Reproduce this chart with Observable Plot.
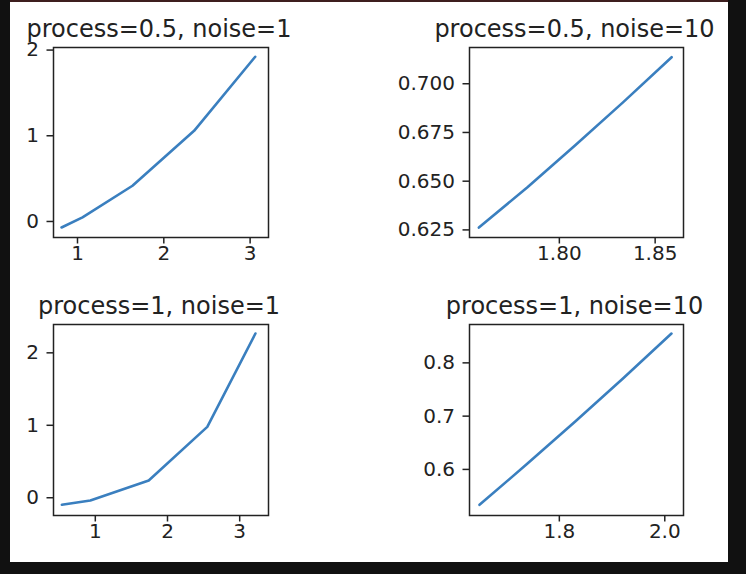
<!DOCTYPE html>
<html>
<head>
<meta charset="utf-8">
<script src="https://cdn.jsdelivr.net/npm/d3@7"></script>
<script src="https://cdn.jsdelivr.net/npm/@observablehq/plot@0.6"></script>
<style>
  html, body { margin: 0; padding: 0; background: #111111; }
  #page { position: relative; width: 746px; height: 574px; background: #111111; overflow: hidden; }
  #band { position: absolute; left: 10px; top: 0; width: 718px; height: 2px; background: #3d1e1e; }
  #sheet { position: absolute; left: 10px; top: 2px; width: 718px; height: 560px; background: #ffffff; }
  .panel { position: absolute; }
</style>
</head>
<body>
<div id="page"><div id="band"></div><div id="sheet"></div></div>
<script>
// ---- data ----
const titles = ["process=0.5, noise=1", "process=0.5, noise=10", "process=1, noise=1", "process=1, noise=10"];

const p1x = [0.815, 1.058, 1.637, 2.351, 3.059];
const p1y = [-0.070, 0.047, 0.417, 1.058, 1.922];

const p2x = [1.758, 1.7832, 1.8083, 1.8335, 1.8586];
const p2y = [0.6262, 0.6468, 0.6684, 0.6907, 0.7136];

const p3x = [0.537, 0.931, 1.740, 2.551, 3.218];
const p3y = [-0.097, -0.037, 0.239, 0.978, 2.267];

const p4x = [1.6486, 1.7396, 1.8307, 1.9217, 2.0127];
const p4y = [0.5336, 0.6109, 0.6903, 0.7717, 0.855];

const p1xTicks = [1, 2, 3], p1yTicks = [0, 1, 2];
const p2xTicks = [1.80, 1.85], p2yTicks = [0.625, 0.650, 0.675, 0.700];
const p3xTicks = [1, 2, 3], p3yTicks = [0, 1, 2];
const p4xTicks = [1.8, 2.0], p4yTicks = [0.6, 0.7, 0.8];

// ---- layout ----
const panels = [
  {title: titles[0], xs: p1x, ys: p1y, xDom: [0.722, 3.213], yDom: [-0.187, 2.030], xt: p1xTicks, yt: p1yTicks, xf: "d", yf: "d",
   region: [10, 2, 369, 282], box: [53, 47, 268, 237]},
  {title: titles[1], xs: p2x, ys: p2y, xDom: [1.7531, 1.8648], yDom: [0.6211, 0.7186], xt: p2xTicks, yt: p2yTicks, xf: ".2f", yf: ".3f",
   region: [369, 2, 728, 282], box: [469, 47, 683, 237]},
  {title: titles[2], xs: p3x, ys: p3y, xDom: [0.421, 3.399], yDom: [-0.245, 2.391], xt: p3xTicks, yt: p3yTicks, xf: "d", yf: "d",
   region: [10, 282, 369, 562], box: [53, 324, 268, 515]},
  {title: titles[3], xs: p4x, ys: p4y, xDom: [1.6296, 2.0355], yDom: [0.5135, 0.872], xt: p4xTicks, yt: p4yTicks, xf: ".1f", yf: ".1f",
   region: [369, 282, 728, 562], box: [469, 324, 683, 515]}
];

const ink = "#222222";
const lineColor = "#3a7fbf";
const page = document.getElementById("page");

for (const p of panels) {
  const [rx0, ry0, rx1, ry1] = p.region;
  const [bl, bt, br, bb] = p.box;
  const data = p.xs.map((x, i) => ({x, y: p.ys[i]}));
  const chart = Plot.plot({
    width: rx1 - rx0,
    height: ry1 - ry0,
    marginLeft: bl - rx0,
    marginTop: bt - ry0,
    marginRight: rx1 - br,
    marginBottom: ry1 - bb,
    style: {fontFamily: "'DejaVu Sans', sans-serif", fontSize: "20px", color: ink, background: "transparent", overflow: "visible"},
    x: {domain: p.xDom},
    y: {domain: p.yDom},
    marks: [
      Plot.line(data, {x: "x", y: "y", stroke: lineColor, strokeWidth: 2.6, curve: "linear"}),
      Plot.frame({stroke: ink, strokeWidth: 1.5}),
      Plot.axisX({ticks: p.xt, tickFormat: d3.format(p.xf), tickSize: 6.5, tickPadding: 2, fontSize: 20, stroke: ink, strokeWidth: 1.5, color: ink, label: null}),
      Plot.axisY({ticks: p.yt, tickFormat: d3.format(p.yf), tickSize: 6.5, tickPadding: 8, fontSize: 20, stroke: ink, strokeWidth: 1.5, color: ink, label: null}),
      Plot.text([p.title], {frameAnchor: "top", text: d => d, dx: -2, dy: -11, lineAnchor: "bottom", fontSize: 24, fill: ink})
    ]
  });
  const wrap = document.createElement("div");
  wrap.className = "panel";
  wrap.style.left = rx0 + "px";
  wrap.style.top = ry0 + "px";
  wrap.appendChild(chart);
  page.appendChild(wrap);
}
</script>
</body>
</html>
